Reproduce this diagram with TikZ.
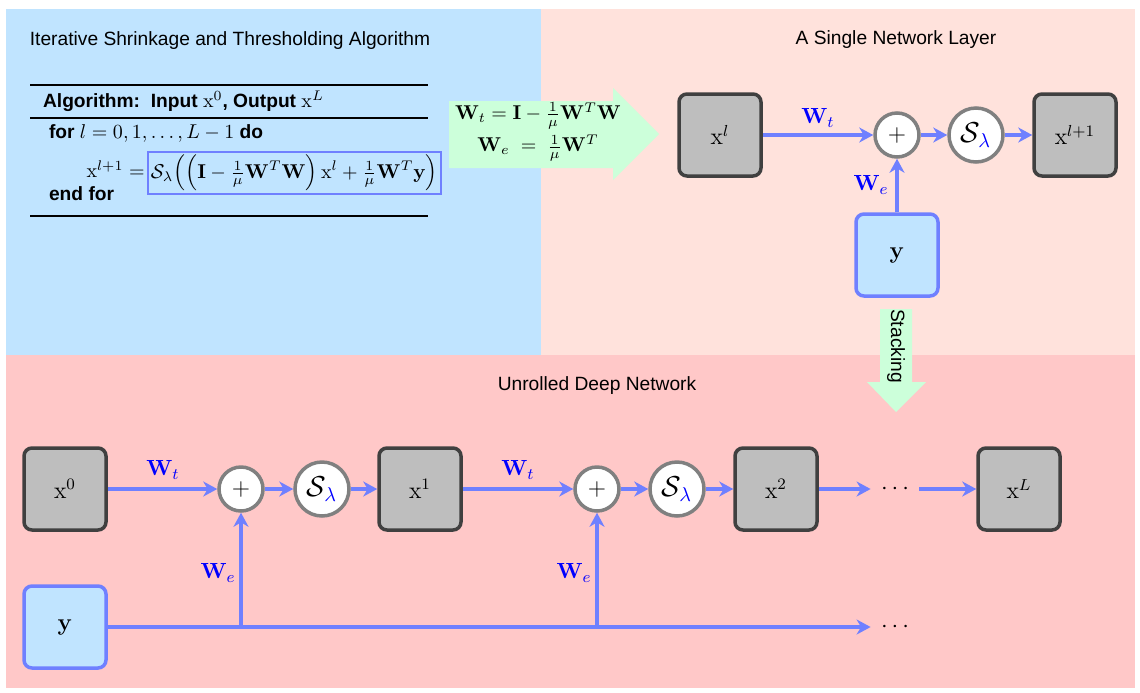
\documentclass[tikz,border=0pt]{standalone}
\usepackage[no-math]{fontspec}
\newfontfamily\helv{Liberation Sans}
\usetikzlibrary{arrows.meta}
\definecolor{panelblue}{HTML}{C0E4FF}
\definecolor{panelsalmon}{HTML}{FFE2DC}
\definecolor{panelpink}{HTML}{FFC8C8}
\definecolor{arrowgreen}{HTML}{CCFFDA}
\definecolor{lineblue}{HTML}{6F80FF}
\definecolor{boxgray}{HTML}{BEBEBE}
\definecolor{boxborder}{HTML}{404040}
\definecolor{circgray}{HTML}{808080}
\begin{document}
\begin{tikzpicture}[x=0.5pt,y=-0.5pt,
  box/.style={draw=boxborder, fill=boxgray, line width=1.75pt, rounded corners=4pt, minimum size=41pt, inner sep=0pt, font=\large},
  ybox/.style={box, draw=lineblue, fill=panelblue},
  sumc/.style={circle, draw=circgray, fill=white, line width=1.75pt, minimum size=22pt, inner sep=0pt, font=\large},
  sc/.style={sumc, minimum size=27pt, font=\Large},
  conn/.style={draw=lineblue, line width=1.75pt, -{Stealth[length=7pt,width=7.5pt,inset=2.2pt]}},
  wlabel/.style={text=blue, inner sep=1pt, font=\fontsize{11}{13}\selectfont},
  dots/.style={inner sep=5pt, font=\large},
  title/.style={font=\helv\fontsize{9.6}{11}\selectfont},
  algtext/.style={anchor=west, font=\helv\bfseries\fontsize{9.6}{11}\selectfont},
  rule/.style={line width=1pt},
  bigarrow/.style={fill=arrowgreen}
]
\useasboundingbox (0,0) rectangle (1140,692);
% panels
\fill[panelblue] (6,9) rectangle (541,355);
\fill[panelsalmon] (541,9) rectangle (1135,355);
\fill[panelpink] (6,355) rectangle (1135,688);

% titles
\node[title] (t1) at (230,41) {Iterative Shrinkage and Thresholding Algorithm};
\node[title] (t2) at (896,40) {A Single Network Layer};
\node[title] (t3) at (597,386) {Unrolled Deep Network};

% algorithm
\draw[rule] (30,85) -- (428,85);
\draw[rule] (30,118) -- (428,118);
\draw[rule] (30,216) -- (428,216);
\node[algtext] (alg) at (36,101) {Algorithm:\ \ Input $\mathrm{x}^0$, Output $\mathrm{x}^L$};
\node[algtext] (for) at (42,133) {for $l=0,1,\ldots,L-1$ do};
\node[anchor=west, draw=lineblue, line width=0.8pt, inner sep=1.5pt] (upd) at (147,173)
  {$\mathcal{S}_\lambda\Big(\Big(\mathbf{I}-\frac{1}{\mu}\mathbf{W}^T\mathbf{W}\Big)\,\mathrm{x}^l+\frac{1}{\mu}\mathbf{W}^T\mathbf{y}\Big)$};
\node[anchor=east, inner sep=1pt] (lhs) at ([yshift=2pt]upd.west) {$\mathrm{x}^{l+1}=$};
\node[algtext] (endfor) at (42,194) {end for};

% green arrow
\fill[bigarrow] (449,101) -- (613,101) -- (613,88) -- (659,134) -- (613,180) -- (613,168) -- (449,168) -- cycle;
\node[align=center, inner sep=0pt] (eqs) at (538,132)
  {$\mathbf{W}_t=\mathbf{I}-\frac{1}{\mu}\mathbf{W}^T\mathbf{W}$\\[2pt] $\mathbf{W}_e\;=\;\frac{1}{\mu}\mathbf{W}^T$};

% stacking arrow
\fill[bigarrow] (880,309) -- (912,309) -- (912,382) -- (926,382) -- (896,412) -- (867,382) -- (880,382) -- cycle;
\node[rotate=-90, font=\helv\fontsize{9.6}{11}\selectfont, inner sep=0pt] (stack) at (896,346) {Stacking};

% single layer
\node[box] (xl) at (720,135) {$\mathrm{x}^l$};
\node[sumc] (p0) at (897,135) {$+$};
\node[sc] (s0) at (976,135) {$\mathcal{S}_{\color{blue}\lambda}$};
\node[box] (xl1) at (1075,135) {$\mathrm{x}^{l+1}$};
\node[ybox] (y0) at (897,255) {$\mathbf{y}$};
\draw[conn] (xl) -- (p0);
\draw[conn] (p0) -- (s0);
\draw[conn] (s0) -- (xl1);
\draw[conn] (y0) -- (p0);
\node[wlabel] (wt0) at (818,118) {$\mathbf{W}_t$};
\node[wlabel] (we0) at (871,185) {$\mathbf{W}_e$};

% unrolled network
\node[box] (x0) at (65,489) {$\mathrm{x}^0$};
\node[sumc] (p1) at (241,489) {$+$};
\node[sc] (s1) at (322,489) {$\mathcal{S}_{\color{blue}\lambda}$};
\node[box] (x1) at (420,489) {$\mathrm{x}^1$};
\node[sumc] (p2) at (597,489) {$+$};
\node[sc] (s2) at (677,489) {$\mathcal{S}_{\color{blue}\lambda}$};
\node[box] (x2) at (776,489) {$\mathrm{x}^2$};
\node[dots] (d1) at (895,489) {$\cdots$};
\node[box] (xL) at (1019,489) {$\mathrm{x}^L$};
\node[ybox] (yb) at (65,627) {$\mathbf{y}$};
\node[dots] (d2) at (895,627) {$\cdots$};
\coordinate (j1) at (p1 |- yb);
\coordinate (j2) at (p2 |- yb);

\draw[conn] (x0) -- (p1);
\draw[conn] (p1) -- (s1);
\draw[conn] (s1) -- (x1);
\draw[conn] (x1) -- (p2);
\draw[conn] (p2) -- (s2);
\draw[conn] (s2) -- (x2);
\draw[conn] (x2) -- (d1);
\draw[conn] (d1) -- (xL);
\draw[conn] (yb.east) -- (d2.west);
\draw[conn] (j1) -- (p1);
\draw[conn] (j2) -- (p2);

\node[wlabel] (wt1) at (163,470) {$\mathbf{W}_t$};
\node[wlabel] (wt2) at (518,470) {$\mathbf{W}_t$};
\node[wlabel] (we1) at (218,573) {$\mathbf{W}_e$};
\node[wlabel] (we2) at (574,573) {$\mathbf{W}_e$};
\end{tikzpicture}
\end{document}
